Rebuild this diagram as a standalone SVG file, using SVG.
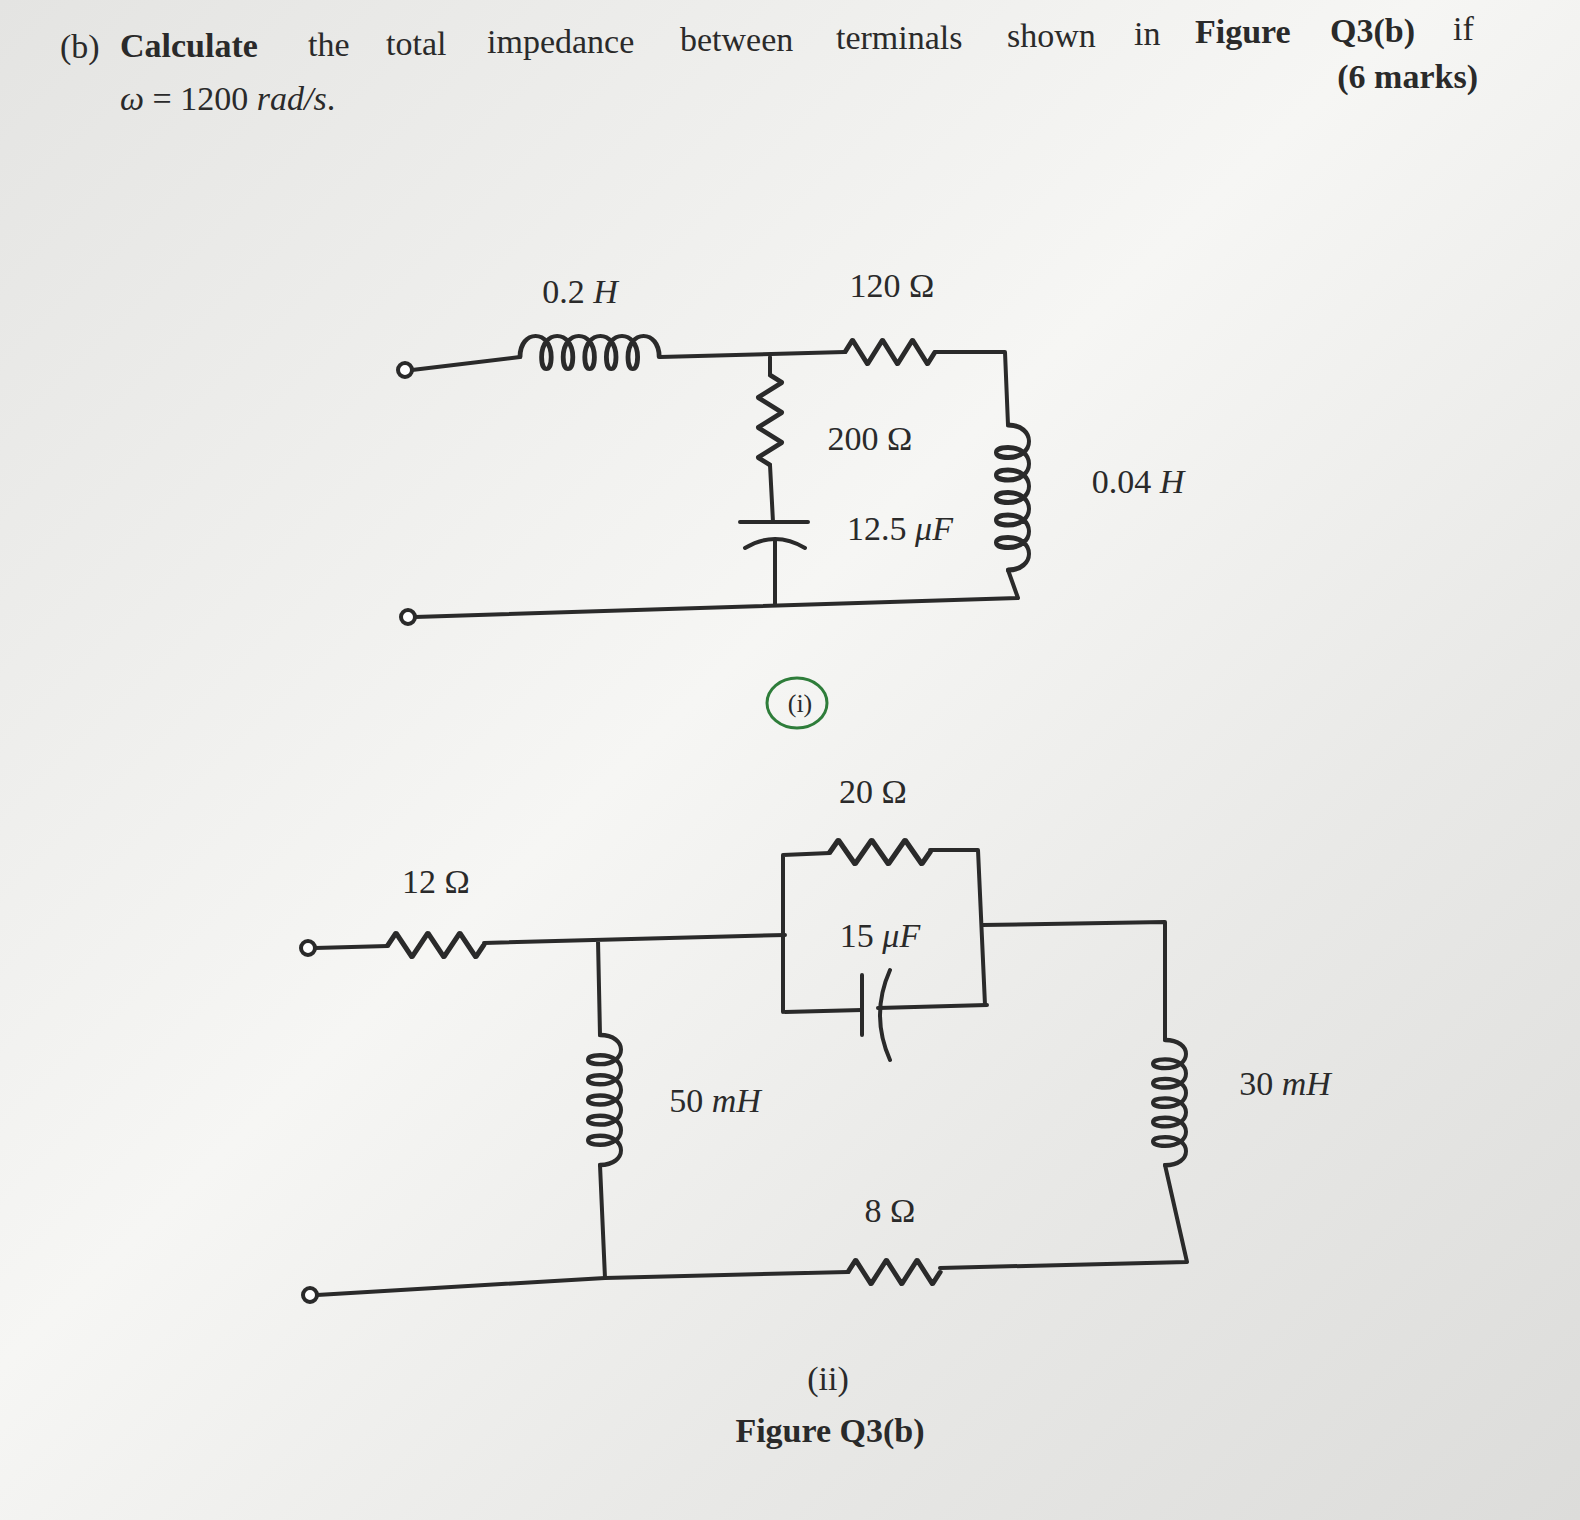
<svg xmlns="http://www.w3.org/2000/svg" width="1580" height="1520" viewBox="0 0 1580 1520">
<defs>
<linearGradient id="bg" x1="0" y1="0" x2="1" y2="1">
<stop offset="0" stop-color="#e4e4e2"/>
<stop offset="0.45" stop-color="#f6f6f4"/>
<stop offset="0.7" stop-color="#e9e9e7"/>
<stop offset="1" stop-color="#dcdcda"/>
</linearGradient>
<path id="coil" d="M0,0 c0,-28 26,-28 26,0 c0,16 -8,16 -8,0 c0,-28 26,-28 26,0 c0,16 -8,16 -8,0 c0,-28 26,-28 26,0 c0,16 -8,16 -8,0 c0,-28 26,-28 26,0 c0,16 -8,16 -8,0 c0,-28 26,-28 26,0 c0,16 -8,16 -8,0 c0,-28 26,-28 26,0"/>
<path id="res" d="M0,0 l6,-12 l12,24 l12,-24 l12,24 l12,-24 l12,24 l6,-12"/>
</defs>
<style>
.w{fill:none;stroke:#2a2a2a;stroke-width:4;stroke-linejoin:round;stroke-linecap:round}
.t{fill:white;stroke:#2a2a2a;stroke-width:4}
.l{font-family:"Liberation Serif",serif;font-size:34px;fill:#2a2a2a}
.b{font-weight:bold}
.i{font-style:italic}
</style>
<rect width="1580" height="1520" fill="url(#bg)"/>

<g id="header" class="l">
<text x="60" y="58">(b)</text>
<text x="120" y="57" class="b">Calculate</text>
<text x="308" y="56">the</text>
<text x="386" y="55">total</text>
<text x="487" y="53">impedance</text>
<text x="680" y="51">between</text>
<text x="836" y="49">terminals</text>
<text x="1007" y="47">shown</text>
<text x="1134" y="45">in</text>
<text x="1195" y="43" class="b">Figure</text>
<text x="1330" y="42" class="b">Q3(b)</text>
<text x="1453" y="40">if</text>
<text x="120" y="110"><tspan class="i">ω</tspan> = 1200 <tspan class="i">rad/s</tspan>.</text>
<text x="1478" y="88" text-anchor="end" class="b">(6 marks)</text>
</g>

<g id="connectors">
<path class="w" d="M412,370 L520,357 M660,357 L845,352 M935,352 L1005,352 L1008,425 M1008,570 L1018,598 L415,617"/>
<path class="w" d="M770,357 L770,375 M770,465 L773,522 M775,540 L775,605"/>
<path class="w" d="M315,948 L388,946 M484,943 L785,935 M598,940 L600,1035 M600,1165 L605,1278"/>
<path class="w" d="M783,855 L783,1012 M783,855 L830,853 M930,850 L978,850 L985,1005 M785,1012 L862,1010 M878,1008 L987,1005"/>
<path class="w" d="M982,925 L1165,922 L1165,1040 M1165,1165 L1187,1262 M317,1295 L605,1278 L848,1272 M940,1268 L1187,1262"/>
</g>

<g id="circuit1">
<g id="t1a"><circle class="t" cx="405" cy="370" r="7"/></g>
<g id="t1b"><circle class="t" cx="408" cy="617" r="7"/></g>
<g id="L02"><use href="#coil" class="w" transform="translate(520,357) scale(1.2,1)"/><text class="l" x="580" y="303" text-anchor="middle">0.2 <tspan class="i">H</tspan></text></g>
<g id="R120"><use href="#res" class="w" transform="translate(845,352) scale(1.25,1)"/><text class="l" x="892" y="297" text-anchor="middle">120 Ω</text></g>
<g id="L004"><use href="#coil" class="w" transform="translate(1008,425) rotate(90) scale(1.25,1)"/><text class="l" x="1138" y="493" text-anchor="middle">0.04 <tspan class="i">H</tspan></text></g>
<g id="R200"><use href="#res" class="w" transform="translate(770,375) rotate(90) scale(1.25,1)"/><text class="l" x="870" y="450" text-anchor="middle">200 Ω</text></g>
<g id="C125"><path class="w" d="M740,522 L808,522 M745,548 Q775,530 805,548"/><text class="l" x="900" y="540" text-anchor="middle">12.5 <tspan class="i">μF</tspan></text></g>
<g id="lab1"><ellipse cx="797" cy="703" rx="30" ry="25" fill="none" stroke="#2e7d3a" stroke-width="3"/><text class="l" x="800" y="712" text-anchor="middle" style="font-size:26px">(i)</text></g>
</g>

<g id="circuit2">
<g id="t2a"><circle class="t" cx="308" cy="948" r="7"/></g>
<g id="t2b"><circle class="t" cx="310" cy="1295" r="7"/></g>
<g id="R12"><use href="#res" class="w" transform="translate(388,945) scale(1.33,1)"/><text class="l" x="436" y="893" text-anchor="middle">12 Ω</text></g>
<g id="L50"><use href="#coil" class="w" transform="translate(600,1035) rotate(90) scale(1.12,1)"/><text class="l" x="715" y="1112" text-anchor="middle">50 <tspan class="i">mH</tspan></text></g>
<g id="R20"><use href="#res" class="w" transform="translate(830,852) scale(1.39,1)"/><text class="l" x="873" y="803" text-anchor="middle">20 Ω</text></g>
<g id="C15"><path class="w" d="M862,975 L862,1035 M890,970 Q870,1015 890,1060"/><text class="l" x="880" y="947" text-anchor="middle">15 <tspan class="i">μF</tspan></text></g>
<g id="L30"><use href="#coil" class="w" transform="translate(1165,1040) rotate(90) scale(1.08,1)"/><text class="l" x="1285" y="1095" text-anchor="middle">30 <tspan class="i">mH</tspan></text></g>
<g id="R8"><use href="#res" class="w" transform="translate(848,1272) scale(1.28,1)"/><text class="l" x="890" y="1222" text-anchor="middle">8 Ω</text></g>
</g>

<g id="caption" class="l">
<text x="828" y="1390" text-anchor="middle">(ii)</text>
<text x="830" y="1442" text-anchor="middle" class="b">Figure Q3(b)</text>
</g>
</svg>
